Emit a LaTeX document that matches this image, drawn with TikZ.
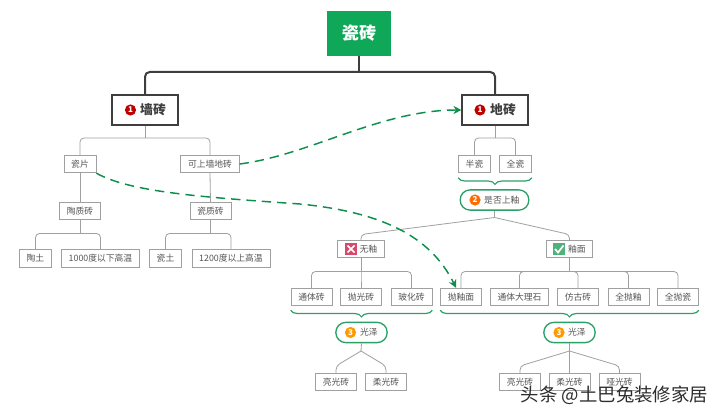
\documentclass[tikz,border=0pt]{standalone}
\usepackage{fontspec}
\setmainfont{Noto Sans CJK SC}
\usetikzlibrary{calc,arrows.meta,decorations.pathreplacing}
\definecolor{tilegreen}{RGB}{15,168,88}
\definecolor{bracegreen}{RGB}{45,160,105}
\definecolor{darkline}{RGB}{62,62,62}
\definecolor{greyline}{RGB}{160,160,160}
\definecolor{greytext}{RGB}{85,85,85}
\tikzset{
  tilebox/.style={draw=greyline,line width=0.6pt,text=greytext,font=\fontsize{6.6pt}{8pt}\selectfont,inner xsep=5.4pt,inner ysep=0pt,minimum height=13.2pt},
  mainbox/.style={draw=darkline,line width=1.3pt,fill=white,text=darkline,font=\fontsize{9.6pt}{11pt}\selectfont\bfseries,minimum width=49pt,minimum height=22pt,inner sep=0pt},
  pillbox/.style={draw=bracegreen,line width=1pt,rounded corners=7.5pt,text=greytext,font=\fontsize{6.6pt}{8pt}\selectfont,minimum height=15.2pt,inner sep=0pt},
  badge/.style={circle,fill=#1,text=white,font=\fontsize{6pt}{6pt}\selectfont\bfseries,minimum size=8.4pt,inner sep=0pt},
  treeline/.style={draw=greyline,line width=0.6pt,rounded corners=3pt},
  trunkline/.style={draw=darkline,line width=1.5pt,rounded corners=3.5pt},
  jumpline/.style={draw=tilegreen!85!black,line width=1.1pt,dash pattern={on 7pt off 4.5pt},-{Stealth[length=6pt,width=6pt]}},
  groupbrace/.style={draw=bracegreen,line width=0.9pt,decorate,decoration={brace,mirror,amplitude=5pt}}
}
\begin{document}
\begin{tikzpicture}[x=0.75pt,y=0.75pt,yscale=-1,xscale=1]
\useasboundingbox (0,0) rectangle (720,417);

% Root
\draw (359,33.5) node [fill=tilegreen,text=white,font=\fontsize{12.8pt}{14pt}\selectfont\bfseries,minimum width=48pt,minimum height=33.7pt,inner sep=0pt] (root) {瓷砖};

% Main branches
\draw (145,110) node [mainbox] (wall) {\hspace{12pt}墙砖};
\draw (495,110) node [mainbox] (floor) {\hspace{12pt}地砖};
\draw (130.5,110) node [badge={red!75!black}] (wallbadge) {1};
\draw (480,110) node [badge={red!75!black}] (floorbadge) {1};

% Wall side
\draw (80,164) node [tilebox] (sheet) {瓷片};
\draw (210,164) node [tilebox] (wallfloor) {可上墙地砖};
\draw (80,211) node [tilebox] (earthen) {陶质砖};
\draw (210.5,211) node [tilebox] (stoneware) {瓷质砖};
\draw (35.5,258.5) node [tilebox] (clay) {陶土};
\draw (100.5,258.5) node [tilebox] (lowtemp) {1000度以下高温};
\draw (165.5,258.5) node [tilebox] (kaolin) {瓷土};
\draw (231,258.5) node [tilebox] (hightemp) {1200度以上高温};

% Floor side
\draw (474.5,164) node [tilebox] (half) {半瓷};
\draw (515.5,164) node [tilebox] (full) {全瓷};
\draw (494.5,200) node [pillbox,minimum width=51.5pt] (glazeq) {\hspace{11pt}是否上釉};
\draw (475,200) node [badge={orange!85!red}] (glazebadge) {2};
\draw (361,249) node [tilebox,minimum width=34.5pt] (noglaze) {\hspace{11pt}无釉};
\draw (569.5,249) node [tilebox,minimum width=34.5pt] (glazed) {\hspace{11pt}釉面};

% Unglazed row
\draw (311.5,297) node [tilebox] (body) {通体砖};
\draw (361,297) node [tilebox] (polished) {抛光砖};
\draw (411.5,297) node [tilebox] (vitrified) {玻化砖};
\draw (361.5,332.5) node [pillbox,minimum width=38.5pt] (glossl) {\hspace{11pt}光泽};
\draw (350.5,332.5) node [badge={orange!80!yellow}] (glosslbadge) {3};
\draw (336,382) node [tilebox] (brightl) {亮光砖};
\draw (386,382) node [tilebox] (softl) {柔光砖};

% Glazed row
\draw (461,297) node [tilebox] (glazepolish) {抛釉面};
\draw (519.5,297) node [tilebox] (marble) {通体大理石};
\draw (578,297) node [tilebox] (antique) {仿古砖};
\draw (628.5,297) node [tilebox] (fullglaze) {全抛釉};
\draw (678,297) node [tilebox] (fullpolish) {全抛瓷};
\draw (569.5,332.5) node [pillbox,minimum width=38.5pt] (glossr) {\hspace{11pt}光泽};
\draw (559,332.5) node [badge={orange!80!yellow}] (glossrbadge) {3};
\draw (520,382) node [tilebox] (brightr) {亮光砖};
\draw (569.5,382) node [tilebox] (softr) {柔光砖};
\draw (619.5,382) node [tilebox] (matte) {哑光砖};

% Icons
\draw (351,249) node [fill={rgb,255:red,214;green,72;blue,110},minimum size=9pt,inner sep=0pt] (crossicon) {};
\draw [white,line width=1.3pt] (347.5,245.5) -- (354.5,252.5) (354.5,245.5) -- (347.5,252.5);
\draw (559,249) node [fill={rgb,255:red,78;green,178;blue,122},minimum size=9pt,inner sep=0pt] (tickicon) {};
\draw [white,line width=1.3pt] (555,249) -- (558,252.5) -- (563.5,245.5);

% Forks
\coordinate (rootfork) at (359,72);
\coordinate (wallfork) at (145,138);
\coordinate (floorfork) at (495,138);
\coordinate (earthenfork) at (80,233.5);
\coordinate (stonefork) at (210.5,233.5);
\coordinate (glazefork) at (494.5,217.5);
\coordinate (noglazeturn) at (361,234.5);
\coordinate (glazedturn) at (569.5,234.5);
\coordinate (noglazefork) at (361,271.5);
\coordinate (glazedfork) at (569.5,271.5);
\coordinate (glosslfork) at (361,351);
\coordinate (glossrfork) at (569.5,351);

% Thick connectors
\draw [trunkline] (root.south) -- (rootfork);
\foreach \kid in {wall,floor} \draw [trunkline] (\kid.north) |- (rootfork);

% Thin connectors
\draw [treeline] (wall.south) -- (wallfork);
\foreach \kid in {sheet,wallfloor} \draw [treeline] (\kid.north) |- (wallfork);
\draw [treeline] (floor.south) -- (floorfork);
\foreach \kid in {half,full} \draw [treeline] (\kid.north) |- (floorfork);
\draw [treeline] (sheet.south) -- (earthen.north);
\draw [treeline] (wallfloor.south) -- (stoneware.north);
\draw [treeline] (earthen.south) -- (earthenfork);
\foreach \kid in {clay,lowtemp} \draw [treeline] (\kid.north) |- (earthenfork);
\draw [treeline] (stoneware.south) -- (stonefork);
\foreach \kid in {kaolin,hightemp} \draw [treeline] (\kid.north) |- (stonefork);
\draw [treeline] (glazeq.south) -- (glazefork);
\draw [treeline] (glazefork) -- (noglazeturn) -- (noglaze.north);
\draw [treeline] (glazefork) -- (glazedturn) -- (glazed.north);
\draw [treeline] (noglaze.south) -- (noglazefork);
\foreach \kid in {body,polished,vitrified} \draw [treeline] (\kid.north) |- (noglazefork);
\draw [treeline] (glazed.south) -- (glazedfork);
\foreach \kid in {glazepolish,marble,antique,fullglaze,fullpolish} \draw [treeline] (\kid.north) |- (glazedfork);
\draw [treeline] (glossl.south) -- (glosslfork);
\draw [treeline] (glosslfork) -- (brightl.north |- 0,366) -- (brightl.north);
\draw [treeline] (glosslfork) -- (softl.north |- 0,366) -- (softl.north);
\draw [treeline] (glossr.south) -- (glossrfork) -- (softr.north);
\draw [treeline] (glossrfork) -- (brightr.north |- 0,366) -- (brightr.north);
\draw [treeline] (glossrfork) -- (matte.north |- 0,366) -- (matte.north);

% Braces
\draw [groupbrace] ($(half.south west)+(0,4.5)$) -- ($(full.south east)+(0,4.5)$);
\draw [groupbrace] ($(body.south west)+(0,4)$) -- ($(vitrified.south east)+(0,4)$);
\draw [groupbrace] ($(glazepolish.south west)+(0,4)$) -- ($(fullpolish.south east)+(0,4)$);

% Dashed links
\draw [jumpline] (wallfloor.east) .. controls (310,155) and (380,110) .. (floor.west);
\draw [jumpline] (sheet.south east) .. controls (130,192) and (200,197) .. (300,204) .. controls (380,212) and (430,235) .. (glazepolish.north -| 456,288);

% Watermark
\draw (614.5,395) node [text={rgb,255:red,45;green,45;blue,45},font=\fontsize{13.8pt}{15pt}\selectfont,inner sep=0pt] (mark) {头条 @土巴兔装修家居};
\end{tikzpicture}
\end{document}
